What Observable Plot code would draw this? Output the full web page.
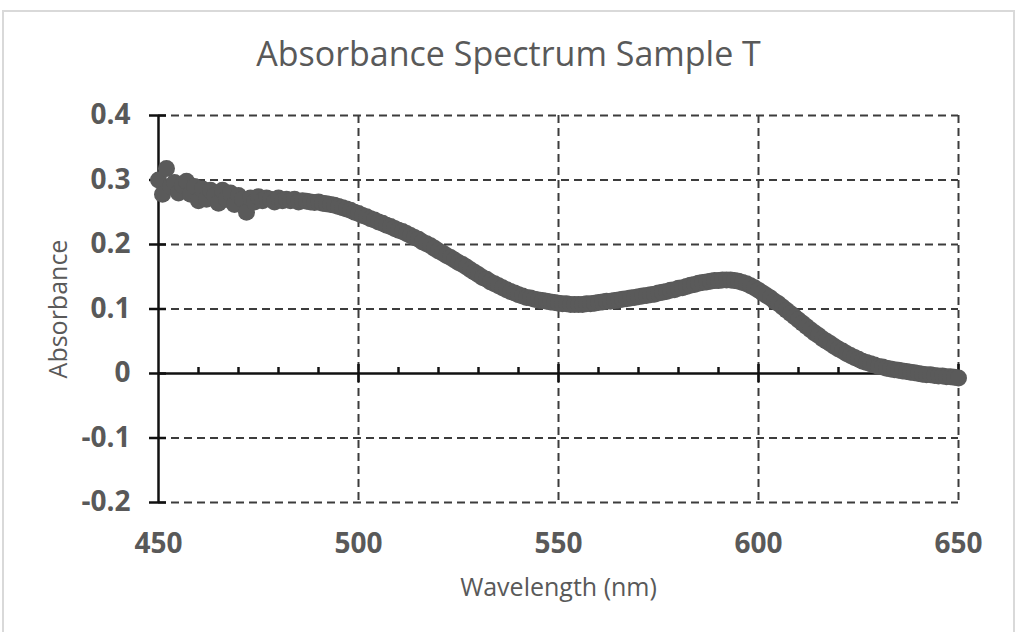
<!DOCTYPE html>
<html>
<head>
<meta charset="utf-8">
<script src="https://cdn.jsdelivr.net/npm/d3@7"></script>
<script src="https://cdn.jsdelivr.net/npm/@observablehq/plot@0.6"></script>
<style>
  html, body { margin: 0; padding: 0; background: #fff; }
  #wrap { position: relative; width: 1024px; height: 632px; overflow: hidden; }
  #border { position: absolute; left: 2px; top: 10px; width: 1013px; height: 640px;
            border: 2px solid #d9d9d9; box-sizing: border-box; pointer-events: none; }
  #chart { position: absolute; left: 0; top: 0; }
</style>
</head>
<body>
<div id="wrap">
  <div id="chart"></div>
  <div id="border"></div>
</div>
<script>
// Absorbance readings, one per nanometre from 450 nm to 650 nm
const wavelengthStart = 450;
const absorbance = [
  0.300, 0.278, 0.318, 0.290, 0.296, 0.280, 0.292, 0.298, 0.278, 0.290, // 450-459
  0.268, 0.286, 0.270, 0.284, 0.276, 0.264, 0.284, 0.270, 0.280, 0.262, // 460-469
  0.276, 0.270, 0.250, 0.272, 0.266, 0.274, 0.268, 0.272, 0.270, 0.266, // 470-479
  0.272, 0.268, 0.270, 0.268, 0.270, 0.266, 0.268, 0.267, 0.266, 0.265, // 480-489
  0.266, 0.264, 0.263, 0.262, 0.261, 0.259, 0.257, 0.255, 0.253, 0.250, // 490-499
  0.248, 0.245, 0.243, 0.240, 0.238, 0.235, 0.233, 0.230, 0.228, 0.225, // 500-509
  0.222, 0.220, 0.217, 0.214, 0.211, 0.208, 0.204, 0.201, 0.198, 0.194, // 510-519
  0.190, 0.187, 0.183, 0.180, 0.176, 0.172, 0.169, 0.165, 0.161, 0.157, // 520-529
  0.153, 0.149, 0.146, 0.142, 0.139, 0.136, 0.133, 0.130, 0.127, 0.125, // 530-539
  0.122, 0.120, 0.118, 0.117, 0.115, 0.114, 0.113, 0.112, 0.111, 0.110, // 540-549
  0.109, 0.108, 0.108, 0.107, 0.107, 0.107, 0.107, 0.108, 0.108, 0.109, // 550-559
  0.110, 0.111, 0.112, 0.112, 0.113, 0.114, 0.115, 0.116, 0.117, 0.118, // 560-569
  0.119, 0.120, 0.121, 0.122, 0.123, 0.125, 0.126, 0.127, 0.129, 0.130, // 570-579
  0.132, 0.133, 0.135, 0.137, 0.138, 0.140, 0.141, 0.142, 0.143, 0.144, // 580-589
  0.144, 0.145, 0.145, 0.145, 0.144, 0.143, 0.141, 0.139, 0.136, 0.133, // 590-599
  0.129, 0.125, 0.121, 0.117, 0.112, 0.108, 0.103, 0.098, 0.093, 0.088, // 600-609
  0.083, 0.078, 0.073, 0.068, 0.063, 0.059, 0.054, 0.050, 0.046, 0.042, // 610-619
  0.038, 0.035, 0.031, 0.028, 0.025, 0.022, 0.019, 0.017, 0.015, 0.013, // 620-629
  0.011, 0.010, 0.008, 0.007, 0.006, 0.005, 0.004, 0.003, 0.002, 0.001, // 630-639
  0.000, -0.001, -0.002, -0.002, -0.003, -0.004, -0.004, -0.005, -0.005, -0.006, // 640-649
  -0.007 // 650
];

const xTicks = [450, 500, 550, 600, 650];
const xMinorTicks = [460, 470, 480, 490, 510, 520, 530, 540, 560, 570, 580, 590, 610, 620, 630, 640];
const yTicks = [-0.2, -0.1, 0, 0.1, 0.2, 0.3, 0.4];
const yTickLabels = ["-0.2", "-0.1", "0", "0.1", "0.2", "0.3", "0.4"];

const titleText = "Absorbance Spectrum Sample T";
const xLabelText = "Wavelength (nm)";
const yLabelText = "Absorbance";

const points = absorbance.map((a, i) => ({wavelength: wavelengthStart + i, absorbance: a}));

const textColor = "#595959";
const markColor = "#5a5a5a";
const gridColor = "#3c3c3c";
const axisColor = "#111111";
const font = "Open Sans, Lato, sans-serif";

const chart = Plot.plot({
  width: 1024,
  height: 632,
  marginLeft: 158,
  marginRight: 66,
  marginTop: 115,
  marginBottom: 130,
  style: {fontFamily: font, background: "transparent", overflow: "visible"},
  x: {domain: [450, 650], label: null},
  y: {domain: [-0.2, 0.4], label: null},
  marks: [
    // dashed gridlines
    Plot.gridY(yTicks.filter(d => d !== 0), {stroke: gridColor, strokeOpacity: 1, strokeWidth: 2, strokeDasharray: "8,5"}),
    Plot.gridX(xTicks.filter(d => d !== 450), {stroke: gridColor, strokeOpacity: 1, strokeWidth: 2, strokeDasharray: "8,5"}),
    // vertical axis line with cross ticks
    Plot.ruleX([450], {stroke: axisColor, strokeWidth: 2.5}),
    Plot.ruleY(yTicks, {x1: () => 450, x2: () => 450, insetLeft: -9, insetRight: -8, stroke: axisColor, strokeWidth: 2.5}),
    // zero line with major cross ticks and minor upward ticks
    Plot.ruleY([0], {stroke: axisColor, strokeWidth: 2.5}),
    Plot.ruleX(xTicks.filter(d => d !== 450), {y1: () => 0, y2: () => 0, insetTop: -9, insetBottom: -9, stroke: axisColor, strokeWidth: 2.5}),
    Plot.ruleX(xMinorTicks, {y1: () => 0, y2: () => 0, insetTop: -6, stroke: axisColor, strokeWidth: 2.5}),
    // spectrum
    Plot.dot(points, {x: "wavelength", y: "absorbance", r: 8.5, fill: markColor, stroke: "none"}),
    // tick labels
    Plot.axisX({ticks: xTicks, tickSize: 0, tickPadding: 31, tickFormat: d => String(d),
                fontSize: 28, fontWeight: "bold", color: textColor}),
    Plot.axisY({ticks: yTicks, tickSize: 0, tickPadding: 28, tickFormat: d => yTickLabels[yTicks.indexOf(d)],
                fontSize: 28, fontWeight: "bold", color: textColor}),
    // title and axis titles
    Plot.text([titleText], {frameAnchor: "top", dx: -50, dy: -60, fontSize: 34, fill: textColor, lineAnchor: "middle"}),
    Plot.text([xLabelText], {frameAnchor: "bottom", dy: 85, fontSize: 25, fill: textColor, lineAnchor: "middle"}),
    Plot.text([yLabelText], {frameAnchor: "left", dx: -100, rotate: -90, fontSize: 25, fill: textColor,
                             textAnchor: "middle", lineAnchor: "middle"})
  ]
});

document.getElementById("chart").appendChild(chart);
</script>
</body>
</html>
